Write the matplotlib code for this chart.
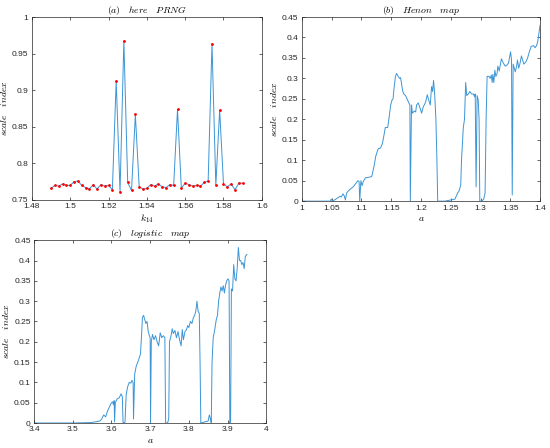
import numpy as np
import matplotlib
matplotlib.use('Agg')
import matplotlib.pyplot as plt

plt.rcParams['mathtext.fontset'] = 'cm'
plt.rcParams['font.family'] = ['Liberation Sans', 'DejaVu Sans']

# (a) here PRNG: k14 from 1.49 to 1.59
prng_k = np.arange(51) * 0.002 + 1.49
prng_val = [0.766, 0.770, 0.769, 0.772, 0.770, 0.770, 0.775, 0.776, 0.770, 0.767,
            0.765, 0.771, 0.765, 0.771, 0.769, 0.770, 0.764, 0.913, 0.761, 0.968,
            0.774, 0.763, 0.867, 0.768, 0.765, 0.766, 0.771, 0.769, 0.772, 0.768,
            0.767, 0.771, 0.770, 0.874, 0.766, 0.773, 0.771, 0.769, 0.770, 0.769,
            0.774, 0.776, 0.964, 0.770, 0.873, 0.772, 0.768, 0.772, 0.764, 0.773,
            0.773]

# (b) Henon map
henon_a = [1.0, 1.02, 1.04, 1.048, 1.049, 1.051, 1.055, 1.06, 1.064, 1.066,
           1.069, 1.071, 1.073, 1.075, 1.08, 1.086, 1.0915, 1.094, 1.096, 1.097,
           1.099, 1.101, 1.103, 1.1066, 1.111, 1.117, 1.118, 1.121, 1.124, 1.128,
           1.132, 1.135, 1.137, 1.140, 1.144, 1.146, 1.149, 1.1515, 1.153, 1.155,
           1.157, 1.159, 1.1616, 1.164, 1.1655, 1.167, 1.169, 1.171, 1.174, 1.177,
           1.1796, 1.1813, 1.182, 1.184, 1.1855, 1.1886, 1.191, 1.1925, 1.1953, 1.199,
           1.201, 1.2037, 1.2077, 1.2105, 1.2133, 1.2155, 1.2177, 1.2195, 1.221, 1.2228,
           1.225, 1.2267, 1.228, 1.24, 1.257, 1.2615, 1.264, 1.2667, 1.268, 1.271,
           1.273, 1.275, 1.2767, 1.2795, 1.282, 1.285, 1.288, 1.29, 1.291, 1.2925,
           1.2942, 1.296, 1.2975, 1.2987, 1.302, 1.3053, 1.3076, 1.3093, 1.311, 1.314,
           1.316, 1.318, 1.3195, 1.3206, 1.3223, 1.324, 1.3257, 1.3275, 1.329, 1.3313,
           1.3335, 1.335, 1.338, 1.3414, 1.344, 1.347, 1.3487, 1.3504, 1.352, 1.3532,
           1.3547, 1.3565, 1.3583, 1.3605, 1.362, 1.364, 1.366, 1.3687, 1.3706, 1.3725,
           1.376, 1.379, 1.3826, 1.385, 1.389, 1.3916, 1.394, 1.396, 1.398, 1.4]
henon_val = [0.0, 0.0, 0.0, 0.0, 0.005, 0.001, 0.003, 0.008, 0.012, 0.010,
             0.018, 0.013, 0.003, 0.020, 0.028, 0.035, 0.045, 0.050, 0.048, 0.0,
             0.050, 0.038, 0.048, 0.057, 0.058, 0.060, 0.065, 0.085, 0.110, 0.128,
             0.130, 0.140, 0.155, 0.180, 0.180, 0.200, 0.235, 0.248, 0.250, 0.280,
             0.305, 0.312, 0.305, 0.300, 0.302, 0.290, 0.270, 0.262, 0.258, 0.248,
             0.240, 0.235, 0.0, 0.235, 0.215, 0.220, 0.218, 0.235, 0.240, 0.225,
             0.215, 0.230, 0.242, 0.260, 0.245, 0.235, 0.280, 0.268, 0.295, 0.265,
             0.200, 0.100, 0.0, 0.0, 0.005, 0.020, 0.025, 0.040, 0.100, 0.180,
             0.200, 0.290, 0.258, 0.262, 0.268, 0.262, 0.262, 0.255, 0.262, 0.035,
             0.258, 0.248, 0.200, 0.0, 0.0, 0.005, 0.020, 0.200, 0.305, 0.305,
             0.300, 0.308, 0.290, 0.310, 0.290, 0.320, 0.305, 0.310, 0.330, 0.318,
             0.335, 0.348, 0.338, 0.330, 0.332, 0.338, 0.352, 0.365, 0.345, 0.015,
             0.335, 0.325, 0.316, 0.330, 0.345, 0.325, 0.335, 0.355, 0.345, 0.335,
             0.340, 0.350, 0.368, 0.378, 0.380, 0.375, 0.380, 0.390, 0.410, 0.430]

# (c) logistic map
logistic_a = [3.4, 3.45, 3.5, 3.545, 3.56, 3.57, 3.575, 3.58, 3.585, 3.59,
              3.595, 3.6, 3.603, 3.605, 3.607, 3.608, 3.61, 3.615, 3.62, 3.625,
              3.628, 3.63, 3.635, 3.638, 3.642, 3.646, 3.65, 3.653, 3.656, 3.657,
              3.66, 3.664, 3.67, 3.675, 3.678, 3.68, 3.683, 3.686, 3.689, 3.692,
              3.695, 3.698, 3.7, 3.701, 3.703, 3.706, 3.71, 3.714, 3.718, 3.722,
              3.726, 3.73, 3.734, 3.738, 3.740, 3.745, 3.748, 3.75, 3.754, 3.757,
              3.76, 3.764, 3.768, 3.772, 3.776, 3.78, 3.783, 3.786, 3.79, 3.794,
              3.797, 3.8, 3.804, 3.808, 3.812, 3.815, 3.818, 3.821, 3.824, 3.827,
              3.829, 3.831, 3.85, 3.853, 3.856, 3.858, 3.86, 3.863, 3.867, 3.871,
              3.874, 3.877, 3.88, 3.883, 3.886, 3.889, 3.892, 3.895, 3.898, 3.901,
              3.904, 3.906, 3.908, 3.91, 3.913, 3.916, 3.919, 3.922, 3.925, 3.928,
              3.931, 3.934, 3.937, 3.94, 3.943, 3.946, 3.95]
logistic_val = [0.0, 0.0, 0.0, 0.001, 0.003, 0.005, 0.010, 0.020, 0.015, 0.030,
                0.040, 0.050, 0.052, 0.045, 0.055, 0.003, 0.050, 0.060, 0.062, 0.072,
                0.065, 0.0, 0.002, 0.070, 0.090, 0.100, 0.098, 0.105, 0.100, 0.010,
                0.120, 0.140, 0.155, 0.170, 0.220, 0.260, 0.265, 0.255, 0.245, 0.250,
                0.225, 0.215, 0.210, 0.0, 0.200, 0.218, 0.205, 0.215, 0.200, 0.190,
                0.222, 0.210, 0.215, 0.210, 0.0, 0.0, 0.010, 0.200, 0.215, 0.232,
                0.220, 0.228, 0.210, 0.225, 0.205, 0.190, 0.230, 0.205, 0.225, 0.230,
                0.240, 0.235, 0.250, 0.245, 0.260, 0.265, 0.275, 0.300, 0.275, 0.270,
                0.150, 0.0, 0.005, 0.020, 0.010, 0.0, 0.150, 0.210, 0.230, 0.255,
                0.265, 0.300, 0.320, 0.335, 0.325, 0.338, 0.320, 0.340, 0.350, 0.355,
                0.350, 0.0, 0.005, 0.330, 0.325, 0.390, 0.355, 0.350, 0.380, 0.432,
                0.400, 0.400, 0.390, 0.395, 0.380, 0.410, 0.415]

line_col = '#3b95d6'
lab_fs = 7


def style_axes(ax):
    ax.tick_params(direction='in', top=True, right=True, labelsize=6,
                   length=2.5, width=0.5, colors='#262626', pad=2.5)
    for s in ax.spines.values():
        s.set_linewidth(0.5)
        s.set_color('#262626')


fig = plt.figure(figsize=(5.5, 4.48), dpi=100)

ax1 = fig.add_axes([0.058, 0.5536, 0.418, 0.408])
ax1.plot(prng_k, prng_val, color=line_col, lw=0.7)
ax1.plot(prng_k, prng_val, 'r.', ms=2)
ax1.set_xlim(1.48, 1.6)
ax1.set_ylim(0.75, 1.0)
ax1.set_xticks([1.48, 1.5, 1.52, 1.54, 1.56, 1.58, 1.6])
ax1.set_xticklabels(['1.48', '1.5', '1.52', '1.54', '1.56', '1.58', '1.6'])
ax1.set_yticks([0.75, 0.8, 0.85, 0.9, 0.95, 1.0])
ax1.set_yticklabels(['0.75', '0.8', '0.85', '0.9', '0.95', '1'])
ax1.set_title(r'$(a)\quad here\quad PRNG$', fontsize=lab_fs, pad=3)
ax1.set_xlabel(r'$k_{14}$', fontsize=lab_fs, labelpad=1)
ax1.set_ylabel(r'$scale\quad index$', fontsize=lab_fs, labelpad=2)
style_axes(ax1)

ax2 = fig.add_axes([0.549, 0.551, 0.433, 0.411])
ax2.plot(henon_a, henon_val, color=line_col, lw=0.7)
ax2.set_xlim(1.0, 1.4)
ax2.set_ylim(0, 0.45)
ax2.set_xticks(np.arange(9) * 0.05 + 1.0)
ax2.set_xticklabels(['1', '1.05', '1.1', '1.15', '1.2', '1.25', '1.3', '1.35', '1.4'])
ax2.set_yticks(np.arange(10) * 0.05)
ax2.set_yticklabels(['0', '0.05', '0.1', '0.15', '0.2', '0.25', '0.3', '0.35', '0.4', '0.45'])
ax2.set_title(r'$(b)\quad Henon\quad map$', fontsize=lab_fs, pad=3)
ax2.set_xlabel(r'$a$', fontsize=lab_fs, labelpad=1)
ax2.set_ylabel(r'$scale\quad index$', fontsize=lab_fs, labelpad=2)
style_axes(ax2)

ax3 = fig.add_axes([0.062, 0.0558, 0.422, 0.408])
ax3.plot(logistic_a, logistic_val, color=line_col, lw=0.7)
ax3.set_xlim(3.4, 4.0)
ax3.set_ylim(0, 0.45)
ax3.set_xticks(np.arange(7) * 0.1 + 3.4)
ax3.set_xticklabels(['3.4', '3.5', '3.6', '3.7', '3.8', '3.9', '4'])
ax3.set_yticks(np.arange(10) * 0.05)
ax3.set_yticklabels(['0', '0.05', '0.1', '0.15', '0.2', '0.25', '0.3', '0.35', '0.4', '0.45'])
ax3.set_title(r'$(c)\quad logistic\quad map$', fontsize=lab_fs, pad=3)
ax3.set_xlabel(r'$a$', fontsize=lab_fs, labelpad=1)
ax3.set_ylabel(r'$scale\quad index$', fontsize=lab_fs, labelpad=2)
style_axes(ax3)

fig.savefig('out.png', dpi=100)
